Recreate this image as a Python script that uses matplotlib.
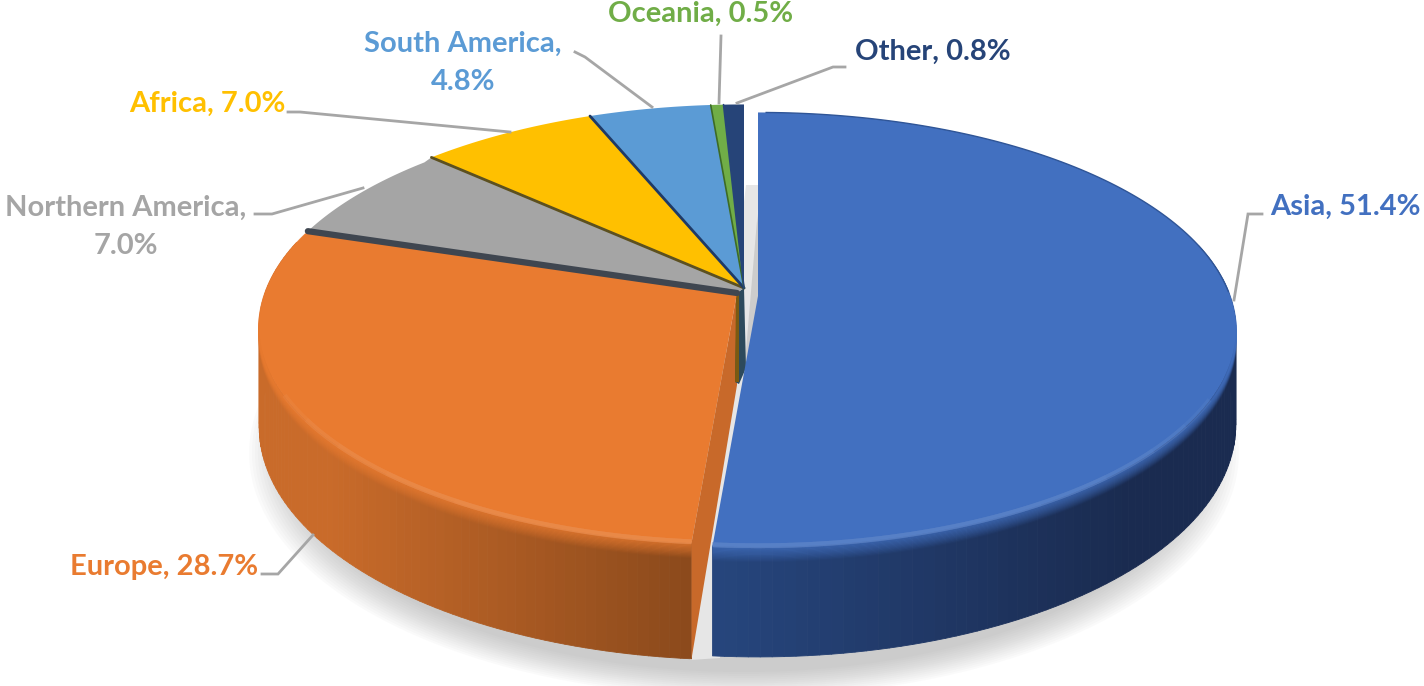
import numpy as np
import matplotlib
matplotlib.use("Agg")
import matplotlib.pyplot as plt
from matplotlib.patches import Polygon
from matplotlib.collections import PolyCollection
from matplotlib.colors import to_rgb

names = ["Asia", "Europe", "Northern America", "Africa", "South America", "Oceania", "Other"]
shares = [51.4, 28.7, 7.0, 7.0, 4.8, 0.5, 0.8]
colors = ["#4270c0", "#e97b30", "#a5a5a5", "#ffc000", "#5b9bd5", "#70ad47", "#264478"]
edges = ["#2f5597", "#e97b30", "#3f4650", "#5c5020", "#1f3a66", "#3d6b25", "#264478"]

# pie geometry, in pixels of the picture
centers = [(758, 296), (737, 293), (737, 293), (744, 288), (744, 288), (744, 288), (744, 288)]
RX = 472
RY = 212
PERSP = 0.155
depths = [93, 98]


def project(t, cx, cy, extra=0.0, r=1.0):
    u = r * np.sin(t)
    v = r * np.cos(t)
    s = 1 / (1 + PERSP * v)
    return cx + RX * u * s, cy - RY * v * s + extra * s


def mix(a, b, f):
    a = np.array(to_rgb(a))
    b = np.array(to_rgb(b))
    return tuple(a + (b - a) * f)


fig = plt.figure(figsize=(14.24, 6.86), dpi=100)
ax = fig.add_axes([0, 0, 1, 1])
ax.set_xlim(0, 1424)
ax.set_ylim(686, 0)
ax.axis("off")

stops = np.cumsum([0] + shares) / sum(shares) * 2 * np.pi
circle = np.linspace(0, 2 * np.pi, 240)

# soft shadow under the pie
for i in range(14):
    x, y = project(circle, 744, 300, 114, 1.035 - i * 0.006)
    ax.add_patch(Polygon(np.c_[x, y], fc="#8c8c8c", ec="none", alpha=0.035, zorder=1))
ax.add_patch(Polygon([(746, 185), (760, 185), (720, 658), (690, 660)], fc="#e6e6e6", ec="none", zorder=1.5))

# sides of Asia and Europe, shaded along the width of the pie
side_ends = {0: ("#1a2b50", "#26457c", 730, 1130), 1: ("#8c4a1c", "#c96b2a", 690, 330)}
for idx, (dark, light, x_light, x_dark) in side_ends.items():
    cx, cy = centers[idx]
    t0 = max(stops[idx], np.pi / 2 - 0.25)
    t1 = min(stops[idx + 1], 3 * np.pi / 2 + 0.25)
    ts = np.linspace(t0, t1, 90)
    quads = []
    shades = []
    for a, b in zip(ts[:-1], ts[1:]):
        xa, ya = project(a, cx, cy)
        xb, yb = project(b, cx, cy)
        xc, yc = project(b, cx, cy, depths[idx])
        xd, yd = project(a, cx, cy, depths[idx])
        quads.append([(xa, ya), (xb, yb), (xc, yc), (xd, yd)])
        if idx == 0:
            shades.append(mix(light, dark, np.clip((xa - x_light) / (x_dark - x_light), 0, 1)))
        else:
            shades.append(mix(dark, light, np.clip((x_light - xa) / (x_light - x_dark), 0, 1)))
    ax.add_collection(PolyCollection(quads, facecolors=shades, edgecolors=shades, linewidths=0.6, zorder=2))

# cut face of Europe and the dark sliver at the middle
ex, ey = centers[1]
fx, fy = project(stops[1], ex, ey)
bx, by = project(stops[1], ex, ey, depths[1])
ax.add_patch(Polygon([(ex, ey), (ex, ey + 92), (bx, by), (fx, fy)], fc="#c8692a", ec="none", zorder=3))
ax.add_patch(Polygon([(ex, ey), (744, 288), (746, 368), (739, 384), (735, 382)], fc="#2d4a5c", ec="none", zorder=3))
ax.add_patch(Polygon([(ex - 1, ey), (ex + 2, ey), (ex + 2, 382), (ex - 2, 382)], fc="#7a5a12", ec="none", zorder=3.1))

# top faces, back slices first so the big ones sit on top
for idx in [2, 6, 5, 4, 3, 1, 0]:
    cx, cy = centers[idx]
    ts = np.linspace(stops[idx], stops[idx + 1], 160)
    x, y = project(ts, cx, cy)
    pts = np.r_[[(cx, cy)], np.c_[x, y]]
    if idx == 2:
        # northern america has to reach the africa wedge, which sits on another centre
        pts = np.r_[pts, [project(stops[3], *centers[3])], [centers[3]]]
    ax.add_patch(Polygon(pts, fc=colors[idx], ec="none", zorder=4))
    # soft bevel along the visible edge, strongest at the front
    if idx < 2:
        rim = ts[(ts > np.pi / 2 - 0.1) & (ts < 3 * np.pi / 2 + 0.3)]
        for off in range(1, 13):
            rx_, ry_ = project(rim, cx, cy, off)
            ax.plot(rx_, ry_, color=colors[idx], lw=1.6, alpha=0.55 * (1 - off / 13), zorder=3.5,
                    solid_capstyle="butt")
        for limit in [-0.45, -0.55, -0.65, -0.75, -0.85]:
            front = rim[np.cos(rim) < limit]
            fx_, fy_ = project(front, cx, cy, -1)
            ax.plot(fx_, fy_, color=mix(colors[idx], "#ffffff", 0.14), lw=3.5, alpha=0.3, zorder=5,
                    solid_capstyle="butt")

# dark lines between the slices
for idx, width in [(2, 4.5), (3, 2), (4, 2), (5, 1.2), (6, 1.2)]:
    cx, cy = centers[idx]
    ex_, ey_ = project(stops[idx], cx, cy)
    ax.plot([cx, ex_], [cy, ey_], color=edges[idx], lw=width, zorder=6, solid_capstyle="round")
x, y = project(np.linspace(0.02, 1.55, 80), *centers[0])
ax.plot(x, y, color="#2f5597", lw=1.0, zorder=6)

# leader lines
leaders = [
    [(1262, 214), (1248, 214), (1234, 300)],
    [(262, 574), (278, 574), (313, 535)],
    [(255, 214), (272, 214), (363, 188)],
    [(288, 112), (300, 112), (510, 132)],
    [(575, 52), (585, 57), (652, 107)],
    [(721, 36), (719, 103)],
    [(845, 67), (833, 67), (737, 103)],
]
for line in leaders:
    lx, ly = zip(*line)
    ax.plot(lx, ly, color="#a6a6a6", lw=2, zorder=7, solid_joinstyle="miter")

# data labels
plt.rcParams["font.family"] = ["Lato", "DejaVu Sans"]
label_spots = [(1345, 207), (164, 567), (126, 227), (207, 104), (463, 63), (701, 14), (933, 52)]
for i in range(len(names)):
    if names[i] in ("Northern America", "South America"):
        txt = f"{names[i]},\n{shares[i]:.1f}%"
    else:
        txt = f"{names[i]}, {shares[i]:.1f}%"
    ax.text(label_spots[i][0], label_spots[i][1], txt, color=colors[i], fontsize=21, fontweight="bold",
            ha="center", va="center", linespacing=1.55, zorder=8)

fig.savefig("out.png", dpi=100)
